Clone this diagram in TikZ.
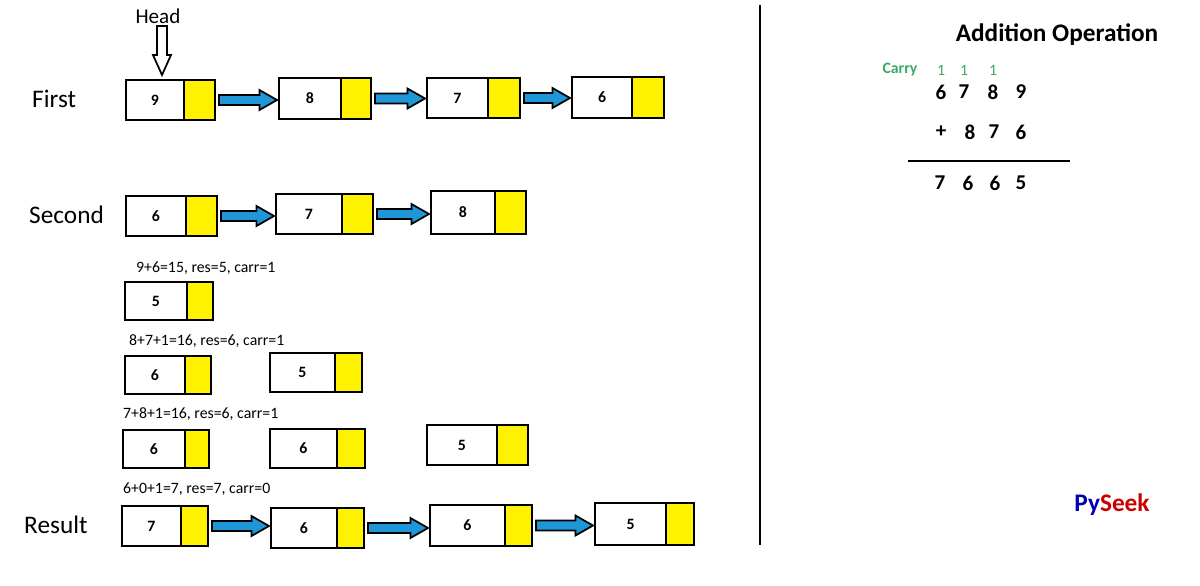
\documentclass[tikz,border=0pt]{standalone}
\usepackage{fontspec}
\setmainfont{Carlito}
\usetikzlibrary{calc}

\tikzset{
    cellline/.style={line width=1.4pt},
    val/.style={font=\bfseries\small},
    link/.style={draw=black, line width=1pt, fill={rgb,255:red,30;green,150;blue,215}},
    rowlabel/.style={font=\Large, anchor=west},
    step note/.style={font=\small, anchor=west},
    digit/.style={font=\large\bfseries}
}

% cell: name, x left, x split, x right, y top, y bottom, value
\newcommand{\cell}[7]{
    \draw[cellline] (#2,#5) rectangle (#3,#6);
    \draw[cellline, fill=yellow] (#3,#5) rectangle (#4,#6);
    \node[val] (#1) at ({(#2+#3)/2},{(#5+#6)/2}) {#7};
    \coordinate (#1w) at (#2,{(#5+#6)/2});
    \coordinate (#1e) at (#4,{(#5+#6)/2});
}
% block arrow from cell to cell
\newcommand{\link}[2]{
    \draw[link] let \p1=($(#1e)+(4,0)$), \p2=($(#2w)+(-2,0)$) in
        (\x1,\y1+2.8pt) -- (\x2-10pt,\y1+2.8pt) -- (\x2-10pt,\y1+5.7pt) -- (\x2,\y1)
        -- (\x2-10pt,\y1-5.7pt) -- (\x2-10pt,\y1-2.8pt) -- (\x1,\y1-2.8pt) -- cycle;
}

\begin{document}
\begin{tikzpicture}[x=0.02cm, y=-0.02cm]
    \useasboundingbox[fill=white] (0,0) rectangle (1200,585);

    % row labels
    \node[rowlabel] at (26,99) {First};
    \node[rowlabel] at (23,215) {Second};
    \node[rowlabel] at (18,525) {Result};

    % head pointer
    \node[font=\large] (head) at (158,16) {Head};
    \draw[line width=1pt, fill=white] (157,26) -- (167,26) -- (167,55) -- (171,55) -- (162,75)
        -- (153,55) -- (157,55) -- cycle;

    % first number
    \cell{fa}{126}{184}{215}{80}{120}{9}
    \cell{fb}{279}{341}{371}{78}{119}{8}
    \cell{fc}{427}{488}{520}{78}{118}{7}
    \cell{fd}{572}{632}{664}{77}{118}{6}
    \link{fa}{fb}
    \link{fb}{fc}
    \link{fc}{fd}

    % second number
    \cell{sa}{126}{186}{217}{196}{236}{6}
    \cell{sb}{276}{342}{373}{194}{234}{7}
    \cell{sc}{431}{495}{526}{191}{234}{8}
    \link{sa}{sb}
    \link{sb}{sc}

    % steps
    \node[step note] at (130,268) {9+6=15, res=5, carr=1};
    \cell{pa}{125}{187}{213}{282}{320}{5}

    \node[step note] at (123,341) {8+7+1=16, res=6, carr=1};
    \cell{qa}{125}{185}{211}{356}{394}{6}
    \cell{qb}{270}{335}{362}{353}{392}{5}

    \node[step note] at (117,414) {7+8+1=16, res=6, carr=1};
    \cell{ua}{123}{185}{209}{430}{468}{6}
    \cell{ub}{270}{337}{365}{429}{468}{6}
    \cell{uc}{427}{497}{528}{425}{465}{5}

    \node[step note] at (117,489) {6+0+1=7, res=7, carr=0};
    \cell{ra}{122}{181}{208}{506}{546}{7}
    \cell{rb}{271}{337}{364}{508}{548}{6}
    \cell{rc}{430}{505}{532}{505}{546}{6}
    \cell{rd}{595}{666}{694}{503}{545}{5}
    \link{ra}{rb}
    \link{rb}{rc}
    \link{rc}{rd}

    % divider
    \draw[line width=1.5pt] (760,5) -- (760,545);

    % addition
    \node[font=\Large\bfseries] at (1057,35) {Addition Operation};
    \begin{scope}[every node/.style={text={rgb,255:red,60;green,170;blue,100}}]
        \node[font=\small\bfseries] at (900,70) {Carry};
        \foreach \x in {941,964,993}
            \node[font=\small] at (\x,70) {1};
    \end{scope}
    \foreach \x/\d in {941/6,964/7,993/8,1021/9}
        \node[digit] at (\x,92) {\d};
    \foreach \x/\d in {941/+,970/8,994/7,1021/6}
        \node[digit] at (\x,132) {\d};
    \draw[line width=1.5pt] (908,161) -- (1070,161);
    \foreach \x/\d in {940/7,968/6,995/6,1021/5}
        \node[digit] at (\x,183) {\d};

    \node[font=\Large\bfseries] at (1112,505)
        {\textcolor{blue!70!black}{Py}\textcolor{red!80!black}{Seek}};
\end{tikzpicture}
\end{document}
